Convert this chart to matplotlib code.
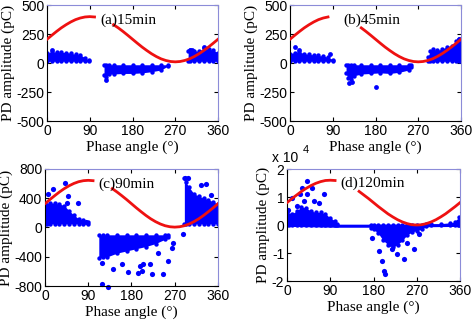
import numpy as np
import matplotlib
matplotlib.use("Agg")
import matplotlib.pyplot as plt

plt.rcParams["axes.unicode_minus"] = False
nan = np.nan

# phase grid for the reference sine (deg), gaps where the panel label hides it
sine_phase = [0, 10, 20, 30, 40, 50, 60, 70, 80, 90, 100, 110, 120, 130, 140, 150, 160, 170, 180,
              190, 200, 210, 220, 230, 240, 250, 260, 270, 280, 290, 300, 310, 320, 330, 340, 350, 360]
a_sine = [205, 239, 272, 303, 330, 354, 374, 388, 397, 400, 397, nan, nan, nan, 330, 303, 272, 239, 205,
          171, 138, 108, 80, 56, 36, 22, 13, 10, 13, 22, 36, 56, 80, 108, 138, 171, 205]
b_sine = [205, 239, 272, 303, 330, 354, 374, 388, 397, nan, nan, nan, nan, nan, nan, 303, 272, 239, 205,
          171, 138, 108, 80, 56, 36, 22, 13, 10, 13, 22, 36, 56, 80, 108, 138, 171, 205]
c_sine = [325, 381, 434, 485, 531, 570, 602, 626, 640, 645, 640, nan, nan, nan, 531, 485, 434, 381, 325,
          269, 216, 165, 119, 80, 48, 24, 10, 5, 10, 24, 48, 80, 119, 165, 216, 269, 325]
d_sine = [0.80, 0.94, 1.07, 1.20, 1.31, 1.41, 1.49, 1.55, 1.59, 1.60, 1.59, nan, nan, nan, nan, 1.20, 1.07, 0.94, 0.80,
          0.66, 0.53, 0.40, 0.29, 0.19, 0.11, 0.05, 0.01, 0.0, 0.01, 0.05, 0.11, 0.19, 0.29, 0.40, 0.53, 0.66, 0.80]

# (a) 15 min
a_p1_phase = [0, 10, 20, 30, 40, 50, 60, 70, 80, 88]
a_p1_top = [85, 95, 95, 92, 90, 85, 75, 70, 45, 25]
a_n_phase = [120, 125, 130, 140, 160, 180, 200, 220, 240, 255]
a_n_bot = [-100, -120, -95, -95, -90, -90, -85, -75, -60, -25]
a_p2_phase = [297, 300, 310, 320, 330, 340, 350, 360]
a_p2_top = [100, 110, 105, 100, 130, 120, 110, 90]
a_floor = 15
a_out_x = [10, 125, 330, 300, 305]
a_out_y = [110, -150, 140, 110, 108]

# (b) 45 min
b_p1_phase = [0, 10, 20, 30, 40, 50, 60, 70, 80, 90]
b_p1_top = [80, 90, 95, 80, 75, 70, 65, 60, 50, 30]
b_n_phase = [118, 122, 128, 135, 150, 170, 190, 210, 230, 250, 255]
b_n_bot = [-90, -130, -140, -110, -95, -90, -85, -90, -80, -60, -35]
b_p2_phase = [290, 295, 300, 310, 320, 330, 340, 350, 355, 360]
b_p2_top = [50, 100, 120, 110, 120, 140, 150, 190, 205, 170]
b_floor = 15
b_out_x = [10, 20, 85, 125, 180, 130, 355]
b_out_y = [140, 110, 80, -175, -205, -160, 210]

# (c) 90 min
c_p1_phase = [0, 5, 10, 20, 30, 40, 50, 60, 70, 80, 90]
c_p1_top = [330, 310, 340, 330, 320, 300, 230, 170, 120, 100, 70]
c_n_phase = [112, 120, 130, 150, 170, 190, 210, 230, 250, 256]
c_n_bot = [-420, -410, -400, -350, -320, -290, -260, -220, -160, -130]
c_p2_phase = [290, 293, 300, 310, 320, 330, 340, 350, 360]
c_p2_top = [680, 620, 550, 460, 430, 400, 380, 350, 320]
c_floor = 50
c_ceil = -100
c_out_x = [6, 17, 42, 46, 48, 69, 85, 119, 141, 173, 194, 223, 245, 119, 131, 218, 256, 266, 264, 287,
           235, 160, 204, 198, 202, 292, 297, 325, 335, 345]
c_out_y = [458, 526, 610, 335, 430, 335, 80, -483, -566, -607, -621, -635, -635, -773, -820, -497, -455, -207,
           -276, -83, -345, -497, -497, -525, -593, 680, 680, 580, 600, 450]

# (d) 120 min, values in 10^4 pC
d_p1_phase = [0, 5, 10, 20, 30, 40, 50, 60, 70, 80, 90, 100, 105]
d_p1_top = [0.45, 0.35, 0.4, 0.5, 0.65, 0.6, 0.5, 0.45, 0.45, 0.4, 0.25, 0.15, 0.05]
d_band_phase = [0, 100, 180, 360]
d_band_top = [0.03, 0.03, 0.03, 0.03]
d_band_bot = [-0.05, -0.08, -0.08, -0.05]
d_n_phase = [175, 180, 190, 200, 210, 220, 230, 240, 250, 260, 270, 280, 290]
d_n_bot = [-0.1, -0.15, -0.3, -0.55, -0.7, -0.8, -0.7, -0.55, -0.35, -0.25, -0.2, -0.15, -0.05]
d_p2_phase = [290, 300, 320, 340, 350, 355, 358, 360]
d_p2_top = [0.03, 0.05, 0.05, 0.08, 0.1, 0.15, 0.3, 0.2]
d_out_x = [42, 31, 52, 10, 77, 56, 67, 35, 21, 27, 42, 3, 198, 202, 204, 229, 243, 218, 264, 177, 191, 212,
           250, 275]
d_out_y = [1.57, 1.32, 1.32, 0.96, 1.1, 0.86, 0.79, 0.86, 0.68, 1.1, 1.1, 0.55, -1.29, -1.64, -1.75, -1.04,
           -1.21, -0.86, -0.86, -0.46, -0.93, -0.68, -0.64, -0.32]

serif = "Liberation Serif"
sans = "Liberation Sans"
blue = "#0000ff"
red = "#ee1111"
frame = "#8c8cd8"


def cloud(ax, x, lo, hi):
    lo = np.broadcast_to(lo, np.shape(x))
    hi = np.broadcast_to(hi, np.shape(x))
    ax.fill_between(x, lo, hi, color=blue, lw=0, zorder=2)
    ax.scatter(x, hi, s=10, color=blue, lw=0, zorder=2)
    ax.scatter(x, lo, s=10, color=blue, lw=0, zorder=2)


def style(ax, ylim, yticks, label):
    ax.set_xlim(0, 360)
    ax.set_ylim(*ylim)
    ax.set_xticks([0, 90, 180, 270, 360])
    ax.set_yticks(yticks)
    ax.tick_params(direction="in", top=True, right=True, length=3, labelsize=10, pad=2)
    for t in ax.get_xticklabels() + ax.get_yticklabels():
        t.set_fontfamily(sans)
    ax.spines["top"].set_color(frame)
    ax.spines["right"].set_color(frame)
    ax.set_xlabel("Phase angle (°)", family=serif, fontsize=11, labelpad=2)
    ax.set_ylabel("PD amplitude (pC)", family=serif, fontsize=11, labelpad=1)
    ax.text(0.31, 0.87, label, transform=ax.transAxes, family=serif, fontsize=11,
            va="center", ha="left", zorder=4)


fig = plt.figure(figsize=(4.74, 3.22), dpi=100)
ax_a = fig.add_axes([0.0992, 0.6242, 0.3608, 0.3602])
ax_b = fig.add_axes([0.6118, 0.6242, 0.3608, 0.3602])
ax_c = fig.add_axes([0.0949, 0.1118, 0.3650, 0.3634])
ax_d = fig.add_axes([0.6055, 0.1273, 0.3650, 0.3478])

# (a)
cloud(ax_a, a_p1_phase, a_floor, a_p1_top)
cloud(ax_a, a_n_phase, a_n_bot, -a_floor)
cloud(ax_a, a_p2_phase, a_floor, a_p2_top)
ax_a.scatter(a_out_x, a_out_y, s=12, color=blue, lw=0, zorder=2)
ax_a.plot(sine_phase, a_sine, color=red, lw=2, zorder=3)
style(ax_a, (-500, 500), [-500, -250, 0, 250, 500], "(a)15min")

# (b)
cloud(ax_b, b_p1_phase, b_floor, b_p1_top)
cloud(ax_b, b_n_phase, b_n_bot, -b_floor)
cloud(ax_b, b_p2_phase, b_floor, b_p2_top)
ax_b.scatter(b_out_x, b_out_y, s=12, color=blue, lw=0, zorder=2)
ax_b.plot(sine_phase, b_sine, color=red, lw=2, zorder=3)
style(ax_b, (-500, 500), [-500, -250, 0, 250, 500], "(b)45min")

# (c)
cloud(ax_c, c_p1_phase, c_floor, c_p1_top)
cloud(ax_c, c_n_phase, c_n_bot, c_ceil)
cloud(ax_c, c_p2_phase, c_floor, c_p2_top)
ax_c.scatter(c_out_x, c_out_y, s=14, color=blue, lw=0, zorder=2, clip_on=False)
ax_c.plot(sine_phase, c_sine, color=red, lw=2, zorder=3)
style(ax_c, (-800, 800), [-800, -400, 0, 400, 800], "(c)90min")

# (d)
cloud(ax_d, d_p1_phase, 0, d_p1_top)
ax_d.fill_between(d_band_phase, d_band_bot, d_band_top, color=blue, lw=0, zorder=2)
cloud(ax_d, d_n_phase, d_n_bot, 0)
cloud(ax_d, d_p2_phase, 0, d_p2_top)
ax_d.scatter(d_out_x, d_out_y, s=14, color=blue, lw=0, zorder=2)
ax_d.plot(sine_phase, d_sine, color=red, lw=2, zorder=3)
style(ax_d, (-2, 2), [-2, -1, 0, 1, 2], "(d)120min")
fig.text(272 / 474, 1 - 162 / 322, "x 10", family=sans, fontsize=10)
fig.text(303 / 474, 1 - 153 / 322, "4", family=sans, fontsize=8)

fig.savefig("out.png", dpi=100)
